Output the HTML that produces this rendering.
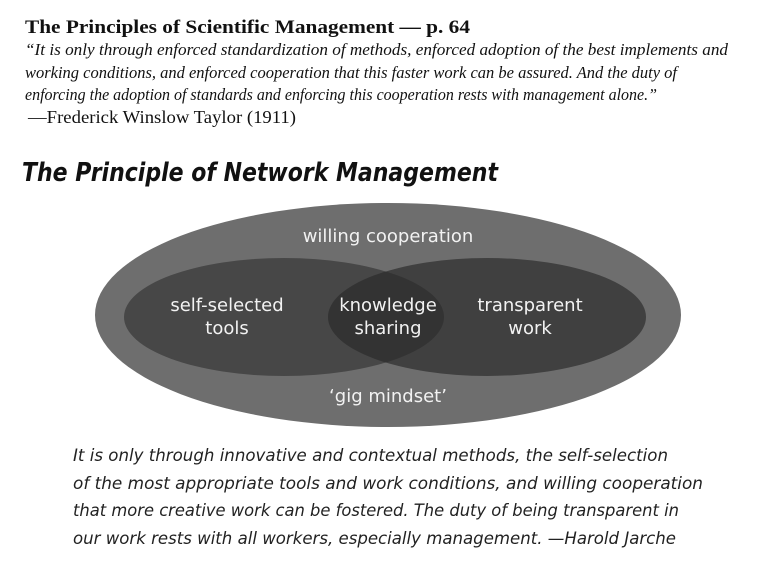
<!DOCTYPE html>
<html><head><style>html,body{margin:0;padding:0;background:#fff}svg{display:block}</style></head>
<body>
<svg width="768" height="578" viewBox="0 0 768 578" xmlns="http://www.w3.org/2000/svg">
<g font-family="Liberation Serif, serif" fill="#111">
<text x="25" y="33" font-size="19" font-weight="bold" textLength="445" lengthAdjust="spacingAndGlyphs">The Principles of Scientific Management — p. 64</text>
<g font-style="italic" font-size="17">
<text x="25" y="55" textLength="703" lengthAdjust="spacingAndGlyphs">“It is only through enforced standardization of methods, enforced adoption of the best implements and</text>
<text x="25" y="78" textLength="652" lengthAdjust="spacingAndGlyphs">working conditions, and enforced cooperation that this faster work can be assured. And the duty of</text>
<text x="25" y="100" textLength="632" lengthAdjust="spacingAndGlyphs">enforcing the adoption of standards and enforcing this cooperation rests with management alone.”</text>
</g>
<text x="28" y="123" font-size="18" textLength="268" lengthAdjust="spacingAndGlyphs">—Frederick Winslow Taylor (1911)</text>
</g>
<text x="22" y="181" font-family="DejaVu Sans, sans-serif" font-size="26" font-weight="bold" font-style="italic" fill="#111" textLength="476" lengthAdjust="spacingAndGlyphs">The Principle of Network Management</text>
<ellipse cx="388" cy="315" rx="293" ry="112" fill="#6e6e6e"/>
<ellipse cx="284" cy="317" rx="160" ry="59" fill="#474747"/>
<ellipse cx="487" cy="317" rx="159" ry="59" fill="#404040"/>
<clipPath id="c"><ellipse cx="284" cy="317" rx="160" ry="59"/></clipPath>
<ellipse cx="487" cy="317" rx="159" ry="59" fill="#333" clip-path="url(#c)"/>
<g font-family="DejaVu Sans, sans-serif" font-size="18" fill="#f2f2f2" text-anchor="middle">
<text x="388" y="242">willing cooperation</text>
<text x="227" y="311">self-selected</text>
<text x="227" y="334">tools</text>
<text x="388" y="311">knowledge</text>
<text x="388" y="334">sharing</text>
<text x="530" y="311">transparent</text>
<text x="530" y="334">work</text>
<text x="388" y="402">‘gig mindset’</text>
</g>
<g font-family="DejaVu Sans, sans-serif" font-size="17" font-style="italic" fill="#222">
<text x="73" y="461" textLength="595" lengthAdjust="spacingAndGlyphs">It is only through innovative and contextual methods, the self-selection</text>
<text x="73" y="489" textLength="630" lengthAdjust="spacingAndGlyphs">of the most appropriate tools and work conditions, and willing cooperation</text>
<text x="73" y="516" textLength="606" lengthAdjust="spacingAndGlyphs">that more creative work can be fostered. The duty of being transparent in</text>
<text x="73" y="544" textLength="603" lengthAdjust="spacingAndGlyphs">our work rests with all workers, especially management. —Harold Jarche</text>
</g>
</svg>
</body></html>
